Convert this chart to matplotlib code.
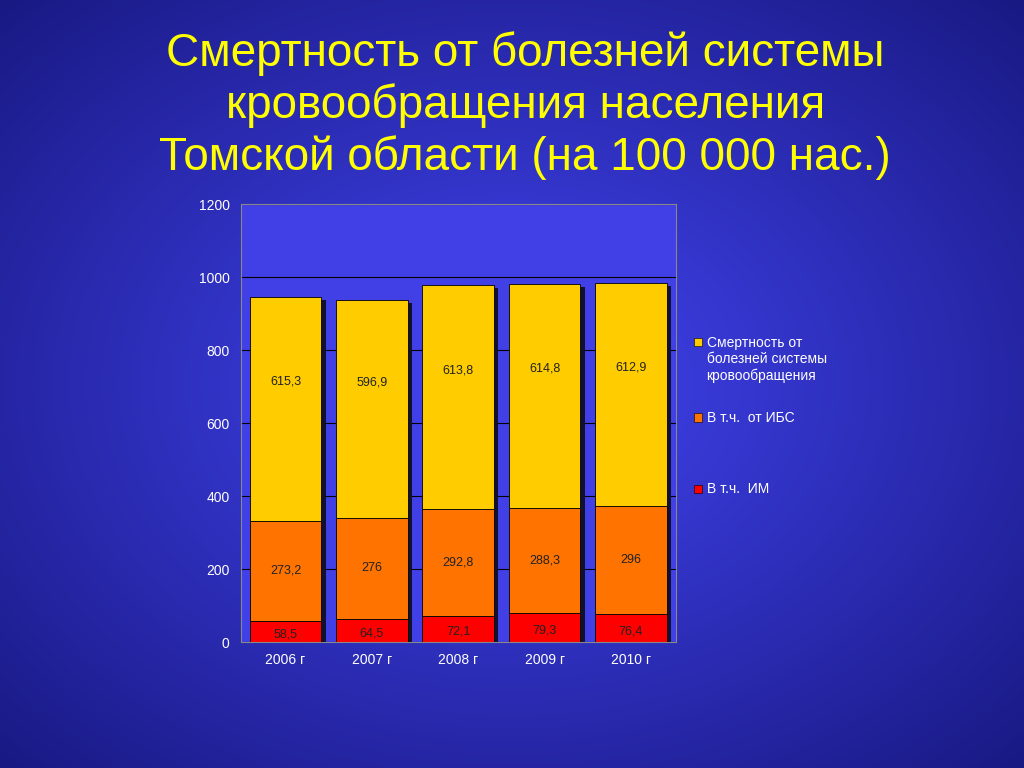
import numpy as np
import matplotlib.pyplot as plt

plt.rcParams['font.family'] = 'Liberation Sans'

years = ["2006 г", "2007 г", "2008 г", "2009 г", "2010 г"]
im_vals = [58.5, 64.5, 72.1, 79.3, 76.4]
ibs_vals = [273.2, 276, 292.8, 288.3, 296]
total_vals = [615.3, 596.9, 613.8, 614.8, 612.9]
im_labels = ["58,5", "64,5", "72,1", "79,3", "76,4"]
ibs_labels = ["273,2", "276", "292,8", "288,3", "296"]
total_labels = ["615,3", "596,9", "613,8", "614,8", "612,9"]

fig = plt.figure(figsize=(10.24, 7.68), dpi=100)

# radial blue background
bg = fig.add_axes([0, 0, 1, 1])
yy, xx = np.mgrid[-1:1:300j, -1:1:400j]
r = np.sqrt(xx**2 + yy**2)
c_in = np.array([0.26, 0.27, 0.95])
c_out = np.array([0.10, 0.10, 0.52])
t = np.clip(r / 1.4, 0, 1)[..., None]
bg.imshow(c_in * (1 - t) + c_out * t, aspect='auto', extent=[0, 1, 0, 1])
bg.axis('off')

fig.text(0.513, 0.96, "Смертность от болезней системы\nкровообращения населения\nТомской области (на 100 000 нас.)",
         ha='center', va='top', color='#ffff00', fontsize=33, linespacing=1.22)

ax = fig.add_axes([0.235, 0.164, 0.425, 0.57])
ax.set_facecolor('#4040e6')
x = np.arange(len(years))
w = 0.83
bot2 = np.array(im_vals) + np.array(ibs_vals)
tops = bot2 + np.array(total_vals)
# shadows
ax.bar(x + 0.05, tops, w, bottom=-8, color='#101030', zorder=1)
ax.bar(x, im_vals, w, color='#ff0000', edgecolor='black', linewidth=0.6, zorder=2)
ax.bar(x, ibs_vals, w, bottom=im_vals, color='#ff7300', edgecolor='black', linewidth=0.6, zorder=2)
ax.bar(x, total_vals, w, bottom=bot2, color='#ffcc00', edgecolor='black', linewidth=0.6, zorder=2)

for i in range(len(years)):
    ax.text(x[i], im_vals[i] / 2 - 8, im_labels[i], ha='center', va='center', fontsize=9, color='#222222', zorder=3)
    ax.text(x[i], im_vals[i] + ibs_vals[i] / 2, ibs_labels[i], ha='center', va='center', fontsize=9, color='#222222', zorder=3)
    ax.text(x[i], bot2[i] + total_vals[i] * 0.62, total_labels[i], ha='center', va='center', fontsize=9, color='#222222', zorder=3)

ax.set_xlim(-0.52, 4.52)
ax.set_ylim(0, 1200)
ax.set_yticks(range(0, 1201, 200))
ax.set_xticks(x)
ax.set_xticklabels(years)
ax.tick_params(colors='white', labelsize=10, length=0, pad=8)
ax.yaxis.grid(True, color='black', linewidth=0.8, zorder=0)
ax.set_axisbelow(True)
for s in ax.spines.values():
    s.set_color('#888888')

# legend
items = [("Смертность от\nболезней системы\nкровообращения", '#ffcc00', 0.555),
         ("В т.ч.  от ИБС", '#ff7300', 0.457),
         ("В т.ч.  ИМ", '#ff0000', 0.364)]
for txt, col, yy0 in items:
    fig.patches.append(plt.Rectangle((0.678, yy0 - 0.006), 0.008, 0.011, transform=fig.transFigure,
                                     facecolor=col, edgecolor='black', linewidth=0.4))
    fig.text(0.69, yy0 + 0.008, txt, ha='left', va='top', color='white', fontsize=10, linespacing=1.2)

fig.savefig('out.png', dpi=100)
